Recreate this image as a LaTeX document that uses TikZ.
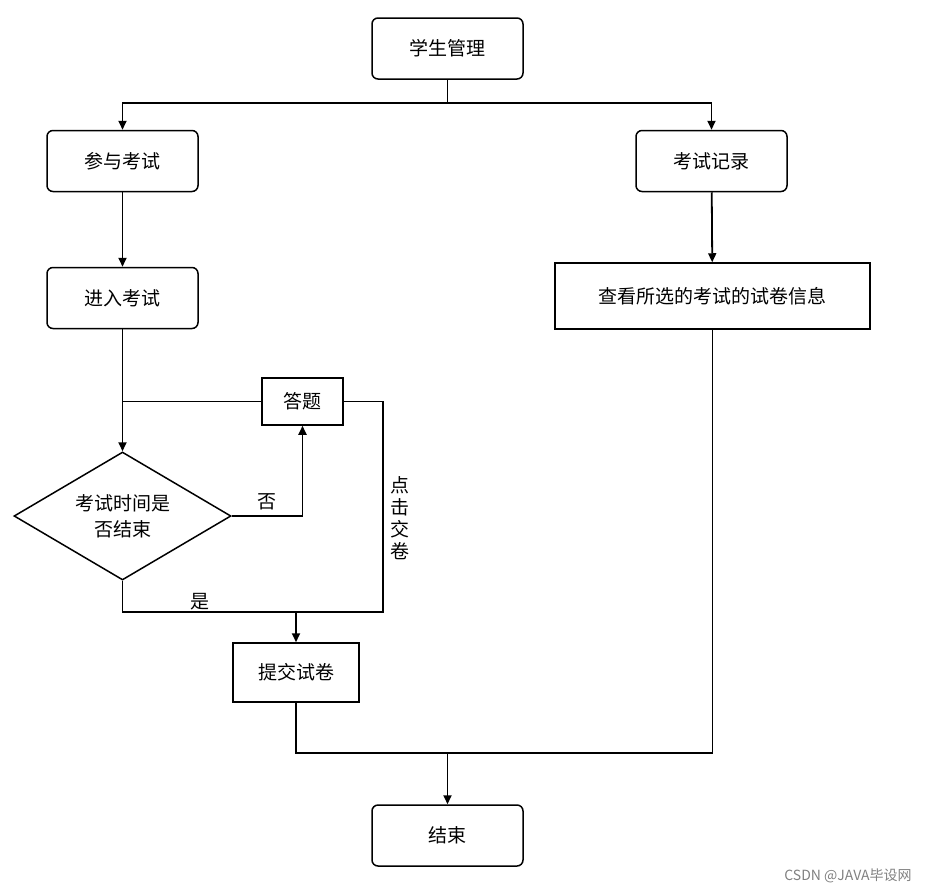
\documentclass[tikz,border=0pt]{standalone}
\usepackage{fontspec}
\setmainfont{Noto Sans CJK SC}
\usetikzlibrary{shapes.geometric,arrows.meta}
\begin{document}
\begin{tikzpicture}[x=1pt,y=-1pt,
  box/.style={draw,line width=1.5pt,rounded corners=6pt,minimum width=151pt,minimum height=61pt,font=\fontsize{19}{22}\selectfont},
  sq/.style={draw,line width=1.5pt,font=\fontsize{19}{22}\selectfont},
  ln/.style={line width=1.8pt},
  ar/.style={line width=1.8pt,-{Triangle[length=9pt,width=8pt]}},
  lab/.style={font=\fontsize{19}{22}\selectfont}]
\useasboundingbox (0,0) rectangle (928,894);
\node[box] (xs) at (447.5,48.5) {学生管理};
\node[box] (cy) at (122.5,161) {参与考试};
\node[box] (jl) at (711.5,161) {考试记录};
\node[box] (jr) at (122.5,298) {进入考试};
\node[sq,minimum width=315pt,minimum height=66pt] (ck) at (712.5,296) {查看所选的考试的试卷信息};
\node[sq,minimum width=81pt,minimum height=47pt] (dt) at (302.5,401.5) {答题};
\node[draw,line width=1.5pt,diamond,aspect=1.7,minimum width=217pt,minimum height=128pt,inner sep=0pt,align=center,font=\fontsize{19}{26}\selectfont] (dm) at (122.5,516) {考试时间是\\否结束};
\node[sq,minimum width=126pt,minimum height=59pt] (tj) at (296,672.5) {提交试卷};
\node[box] (js) at (447.5,835.5) {结束};
\coordinate (s1) at (447.5,103);
\draw[ln] (xs.south) -- (s1);
\draw[ar] (s1) -| (cy.north);
\draw[ar] (s1) -| (jl.north);
\draw[ar] (cy) -- (jr);
\draw[ar] (jl) -- (ck);
\draw[ar] (jr) -- (dm.north);
\draw[line width=0.8pt] (dt.west) -- (122.5,401.5);
\draw[ar] (dm.east) -| node[lab,pos=0.25,above,yshift=2pt] {否} (dt.south);
\coordinate (m1) at (296,612);
\draw[ln] (dm.south) |- (m1);
\node[lab] (shi) at (200,602) {是};
\draw[ln] (dt.east) -- (383,401.5) -- (383,612) -- (m1);
\node[lab,align=center,font=\fontsize{19}{22}\selectfont] (dj) at (400,518) {点\\击\\交\\卷};
\draw[ar] (m1) -- (tj.north);
\coordinate (m2) at (447.5,753);
\draw[ln] (tj.south) |- (712.5,753) -- (ck.south);
\draw[ar] (m2) -- (js.north);
\node[text=gray,font=\fontsize{14}{16}\selectfont] (wm) at (848,876) {CSDN @JAVA毕设网};
\end{tikzpicture}
\end{document}
